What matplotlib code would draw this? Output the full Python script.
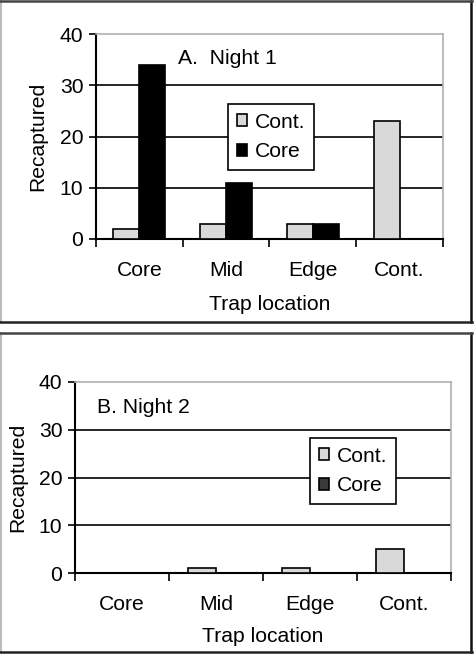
import numpy as np
import matplotlib
matplotlib.use('Agg')
import matplotlib.pyplot as plt
from matplotlib.lines import Line2D

plt.rcParams['font.family'] = ['Liberation Sans', 'DejaVu Sans']
plt.rcParams['font.size'] = 15.2

locations = ['Core', 'Mid', 'Edge', 'Cont.']
series = ['Cont.', 'Core']
night1_cont = [2, 3, 3, 23]
night1_core = [34, 11, 3, 0]
night2_cont = [0, 1, 1, 5]
night2_core = [0, 0, 0, 0]

gray = '#d9d9d9'

fig = plt.figure(figsize=(4.74, 6.56), dpi=100)

# panel frames (figure coords)
def frame(y0, y1):
    fig.add_artist(Line2D([0.002, 0.002], [y0, y1], color='#bbbbbb', lw=1.5, transform=fig.transFigure))
    fig.add_artist(Line2D([0.994, 0.994], [y0, y1], color='#111111', lw=1.8, transform=fig.transFigure))
    fig.add_artist(Line2D([0.0, 0.995], [y1, y1], color='#444444', lw=1.8, transform=fig.transFigure))
    fig.add_artist(Line2D([0.0, 0.995], [y0, y0], color='#222222', lw=1.8, transform=fig.transFigure))

frame(0.509, 0.998)
frame(0.006, 0.492)


def panel(rect, cont, core, core_color, title, title_xy, leg_xy, ylabelpad, xlabelpad):
    ax = fig.add_axes(rect)
    x = np.arange(len(locations)) + 0.5
    ax.bar(x - 0.15, cont, 0.3, color=gray, edgecolor='black', linewidth=1.2, label=series[0], zorder=3)
    ax.bar(x + 0.15, core, 0.3, color=core_color, edgecolor='black', linewidth=1.2, label=series[1], zorder=3)
    ax.set_xlim(0, 4)
    ax.set_ylim(0, 40)
    ax.set_yticks([0, 10, 20, 30, 40])
    for v in [10, 20, 30]:
        ax.axhline(v, color='black', lw=1.2, zorder=1)
    ax.set_xticks([0, 1, 2, 3, 4])
    ax.set_xticklabels([])
    ax.set_xticks(x, minor=True)
    ax.set_xticklabels(locations, minor=True)
    ax.tick_params(axis='x', which='major', direction='out', length=6, width=1.2)
    ax.tick_params(axis='x', which='minor', length=0, pad=15.5)
    ax.tick_params(axis='y', direction='out', length=5, width=1.2, pad=4)
    for s in ['left', 'bottom']:
        ax.spines[s].set_linewidth(1.5)
    for s in ['top', 'right']:
        ax.spines[s].set_color('#b0b0b0')
        ax.spines[s].set_linewidth(1.2)
    ax.set_ylabel('Recaptured', labelpad=ylabelpad)
    ax.set_xlabel('Trap location', labelpad=xlabelpad)
    ax.text(title_xy[0], title_xy[1], title, transform=ax.transAxes, va='center', ha='left')
    leg = ax.legend(loc='upper left', bbox_to_anchor=leg_xy, fancybox=False, framealpha=1,
                    edgecolor='black', handlelength=0.5, handleheight=0.5, handletextpad=0.35,
                    borderpad=0.42, labelspacing=0.5, borderaxespad=0)
    leg.get_frame().set_linewidth(1.2)
    leg.set_zorder(5)
    return ax


panel([0.2025, 0.6357, 0.7321, 0.3123], night1_cont, night1_core, 'black',
      'A.  Night 1', (0.236, 0.883), (0.38, 0.659), 9, 11.5)
panel([0.158, 0.1265, 0.793, 0.2912], night2_cont, night2_core, '#3a3a3a',
      'B. Night 2', (0.0585, 0.869), (0.625, 0.707), 8, 10)

fig.savefig('out.png', dpi=100)
